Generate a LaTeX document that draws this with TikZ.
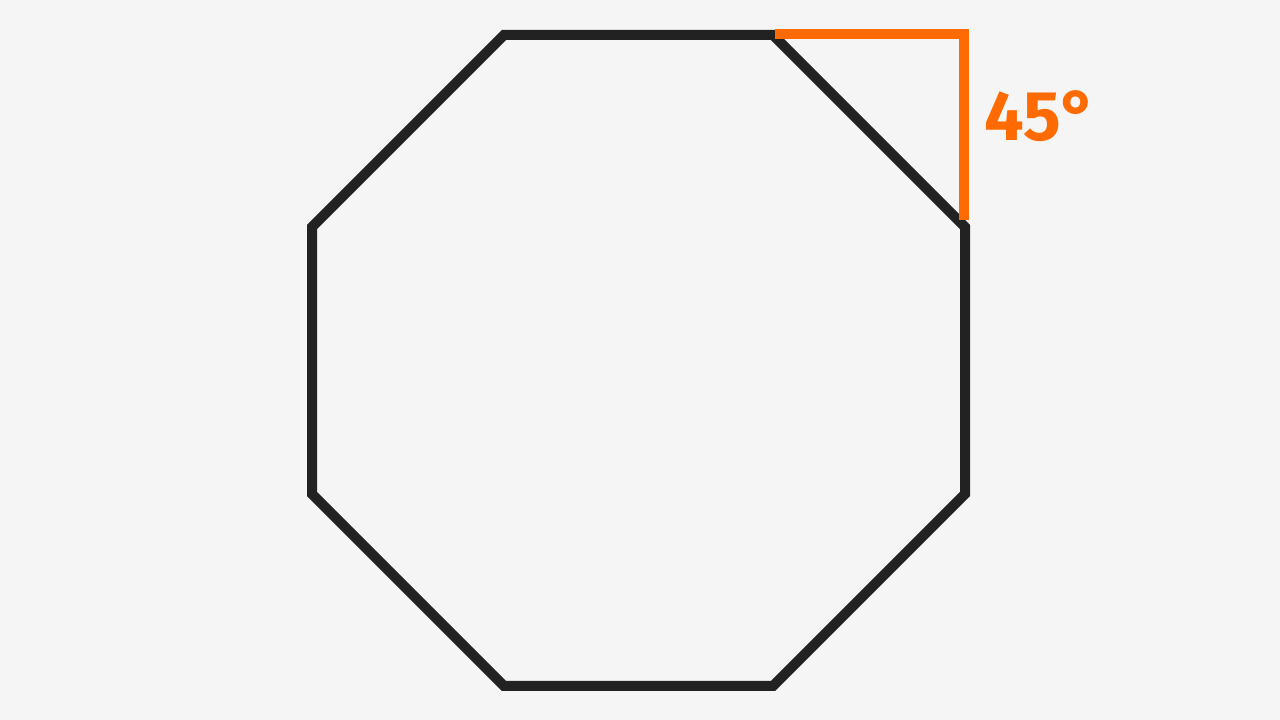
\documentclass[tikz,border=0pt]{standalone}
\usepackage{fontspec}
\setmainfont{Fira Sans}
\usepackage{tikz}

\definecolor{bgGray}{HTML}{F5F5F5}
\definecolor{edgeBlack}{HTML}{222222}
\definecolor{markOrange}{HTML}{FF6B00}

\begin{document}
\begin{tikzpicture}[x=1cm,y=1cm,
	edge/.style={draw=edgeBlack,line width=1mm,line join=miter},
	anglemark/.style={draw=markOrange,line width=1mm,line join=miter}]
	\fill[bgGray] (0,0) rectangle (12.8,7.2);
	\useasboundingbox (0,0) rectangle (12.8,7.2);

	% octagon
	\coordinate (p1) at (5.04,6.85);
	\coordinate (p2) at (7.73,6.85);
	\coordinate (p3) at (9.65,4.93);
	\coordinate (p4) at (9.65,2.26);
	\coordinate (p5) at (7.73,0.34);
	\coordinate (p6) at (5.04,0.34);
	\coordinate (p7) at (3.12,2.26);
	\coordinate (p8) at (3.12,4.93);
	\draw[edge] (p1) -- (p2) -- (p3) -- (p4) -- (p5) -- (p6) -- (p7) -- (p8) -- cycle;

	% angle mark
	\coordinate (corner) at (9.64,6.86);
	\draw[anglemark] (7.75,6.86) -- (corner) -- (9.64,5.0);
	\node (angle) [anchor=west,inner sep=0pt,text=markOrange,font=\bfseries\fontsize{20}{20}\selectfont] at (9.84,6.04) {45°};
\end{tikzpicture}
\end{document}
